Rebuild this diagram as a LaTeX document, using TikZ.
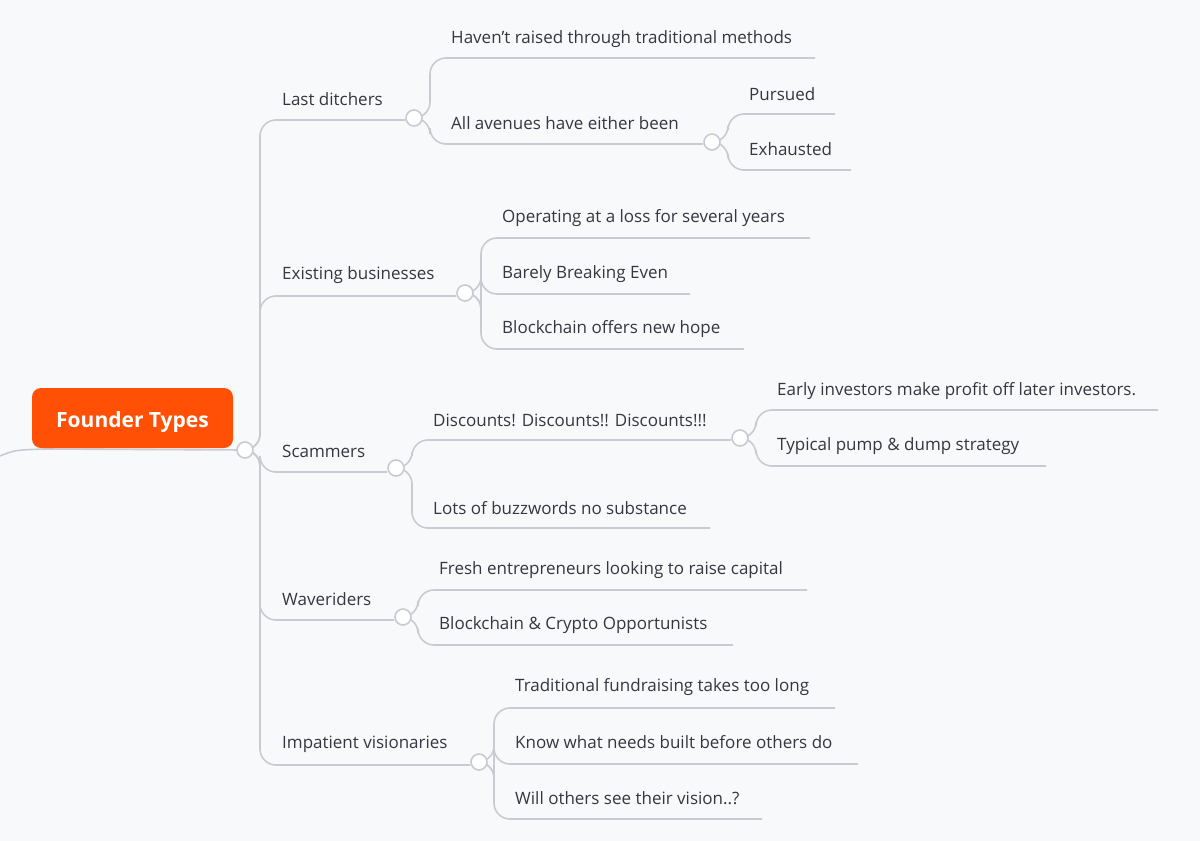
\documentclass[tikz,border=0pt]{standalone}
\usepackage{fontspec}
\setmainfont{Open Sans}
\begin{document}
\definecolor{bg}{RGB}{248,249,250}
\definecolor{ln}{RGB}{200,204,210}
\definecolor{tx}{RGB}{52,55,65}
\definecolor{org}{RGB}{255,80,5}
\begin{tikzpicture}[x=1pt,y=-1pt,
  lbl/.style={anchor=west,text=tx,font=\fontsize{17}{20}\selectfont,inner sep=0,yshift=-2},
  br/.style={draw=ln,line width=1.6pt,rounded corners=16},
  dot/.style={circle,draw=ln,line width=1.6pt,fill=white,minimum size=16,inner sep=0}]
\fill[bg] (0,0) rectangle (1200,841);
\useasboundingbox (0,0) rectangle (1200,841);
\newcommand\mybr[5]{%
  \draw[br] (#1) -- (#3,#2) -- (#3,#4) -- (#5,#4);}
\coordinate (R) at (245,450);
\draw[ln,line width=1.6pt] (0,456) .. controls (15,450) .. (45,449) -- (R);
\mybr{R}{450}{260}{120}{405}
\mybr{R}{450}{260}{296}{456}
\mybr{R}{450}{260}{472}{387}
\mybr{R}{450}{260}{620}{394}
\mybr{R}{450}{260}{765}{470}
\coordinate (C1) at (414,118);
\mybr{C1}{118}{430}{58}{815}
\mybr{C1}{118}{430}{144}{703}
\coordinate (C11) at (712,142);
\mybr{C11}{142}{728}{114}{835}
\mybr{C11}{142}{728}{170}{851}
\coordinate (C2) at (465,293);
\mybr{C2}{293}{481}{238}{810}
\mybr{C2}{293}{481}{294}{690}
\mybr{C2}{293}{481}{349}{744}
\coordinate (C3) at (396,468);
\mybr{C3}{468}{412}{440}{731}
\mybr{C3}{468}{412}{528}{710}
\coordinate (C31) at (740,438);
\mybr{C31}{438}{756}{410}{1158}
\mybr{C31}{438}{756}{466}{1046}
\coordinate (C4) at (403,617);
\mybr{C4}{617}{418}{590}{807}
\mybr{C4}{617}{418}{645}{733}
\coordinate (C5) at (479,762);
\mybr{C5}{762}{494}{708}{835}
\mybr{C5}{762}{494}{764}{858}
\mybr{C5}{762}{494}{819}{762}
\foreach \c in {R,C1,C11,C2,C3,C31,C4,C5} \node[dot] (d\c) at (\c) {};
\node[fill=org,rounded corners=9,minimum width=201,minimum height=60] (root) at (132.5,418) {};
\node[text=white,font=\fontsize{21}{24}\selectfont\bfseries] (roottext) at (132.5,422) {Founder Types};
\node[lbl] (t1) at (282,97) {Last ditchers};
\node[lbl] (t11) at (451,37) {Haven\symbol{39}t raised through traditional methods};
\node[lbl] (t12) at (451,121) {All avenues have either been};
\node[lbl] (t121) at (749,92) {Pursued};
\node[lbl] (t122) at (749,147) {Exhausted};
\node[lbl] (t2) at (282,273) {Existing businesses};
\node[lbl] (t21) at (502,216) {Operating at a loss for several years};
\node[lbl] (t22) at (502,272) {Barely Breaking Even};
\node[lbl] (t23) at (502,327) {Blockchain offers new hope};
\node[lbl] (t3) at (282,449) {Scammers};
\node[lbl] (t31) at (433,418) {Discounts! Discounts!! Discounts!!!};
\node[lbl] (t311) at (777,389) {Early investors make profit off later investors.};
\node[lbl] (t312) at (777,444) {Typical pump \& dump strategy};
\node[lbl] (t32) at (433,506) {Lots of buzzwords no substance};
\node[lbl] (t4) at (282,597) {Waveriders};
\node[lbl] (t41) at (439,568) {Fresh entrepreneurs looking to raise capital};
\node[lbl] (t42) at (439,623) {Blockchain \& Crypto Opportunists};
\node[lbl] (t5) at (282,742) {Impatient visionaries};
\node[lbl] (t51) at (515,685) {Traditional fundraising takes too long};
\node[lbl] (t52) at (515,740) {Know what needs built before others do};
\node[lbl] (t53) at (515,796) {Will others see their vision..?};
\end{tikzpicture}
\end{document}
